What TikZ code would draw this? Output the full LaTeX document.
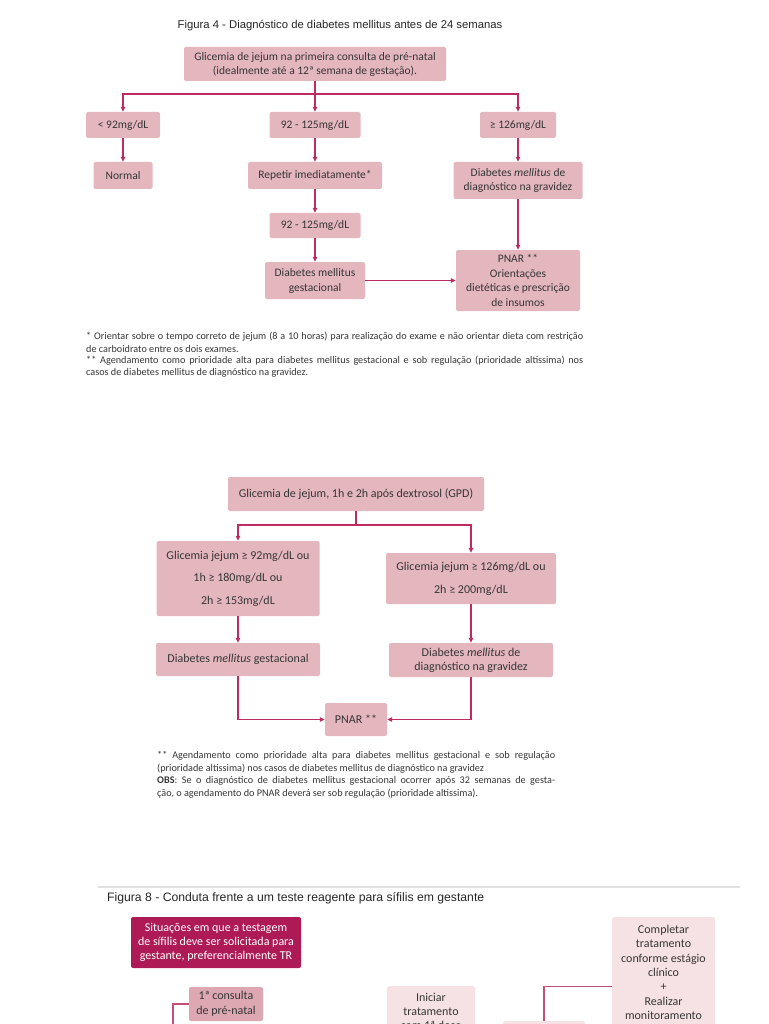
\documentclass[tikz,border=0pt]{standalone}
\usepackage{fontspec}
\setmainfont{Carlito}
\newfontfamily\arialf{Liberation Sans}
\usetikzlibrary{arrows.meta,calc}
\definecolor{pbox}{HTML}{E4B6BE}
\definecolor{crim}{HTML}{BE2A62}
\definecolor{txt}{HTML}{363636}
\definecolor{darkbox}{HTML}{AE1A55}
\definecolor{consbox}{HTML}{DDA8B2}
\definecolor{lightbox}{HTML}{F6E2E4}
\definecolor{ln3c}{HTML}{C45078}
\begin{document}
\begin{tikzpicture}[x=1pt,y=-1pt,
  bx/.style={fill=pbox, rounded corners=2pt, inner sep=0pt, align=center, text=txt},
  fa/.style={font=\fontsize{11.5}{14}\selectfont},
  fb/.style={font=\fontsize{12}{14}\selectfont},
  arr/.style={draw=crim, line width=1.2pt, -{Triangle[length=5pt,width=4.5pt]}},
  ln/.style={draw=crim, line width=1.2pt},
  ln3/.style={draw=ln3c, line width=1.2pt},
  fn/.style={anchor=west, inner sep=0pt, text=txt, font=\fontsize{10.2}{11}\selectfont},
  ttl/.style={inner sep=0pt, text=black!85, font=\arialf\fontsize{11.3}{13}\selectfont}]
\useasboundingbox (0,0) rectangle (768,1024);
\clip (0,0) rectangle (768,1024);

% ---------------- Section 1 ----------------
\node[ttl] (t1) at (340,26) {Figura 4 - Diagnóstico de diabetes mellitus antes de 24 semanas};

\node[bx,fa,minimum width=262pt,minimum height=34pt] (top) at (315,64) {Glicemia de jejum na primeira consulta de pré-natal\\(idealmente até a 12ª semana de gestação).};
\node[bx,fa,minimum width=74pt,minimum height=26pt] (lt) at (123,125) {< 92mg/dL};
\node[bx,fa,minimum width=91pt,minimum height=26pt] (mt) at (315,125) {92 - 125mg/dL};
\node[bx,fa,minimum width=76pt,minimum height=26pt] (rt) at (518,125) {≥ 126mg/dL};
\node[bx,fa,minimum width=59pt,minimum height=27pt] (nor) at (123,175.5) {Normal};
\node[bx,fa,minimum width=134pt,minimum height=27pt] (rep) at (315,175.5) {Repetir imediatamente*};
\node[bx,fa,minimum width=129pt,minimum height=37pt] (dmd) at (518,180.5) {Diabetes \textit{mellitus} de\\diagnóstico na gravidez};
\node[bx,fa,minimum width=91pt,minimum height=25pt] (m2) at (315,225.5) {92 - 125mg/dL};
\node[bx,font=\fontsize{11.5}{15}\selectfont,minimum width=100pt,minimum height=37pt] (dmg) at (315,280.5) {Diabetes mellitus\\gestacional};
\node[bx,font=\fontsize{11.5}{14.5}\selectfont,minimum width=124pt,minimum height=61pt] (pnar) at (518,280.5) {PNAR **\\Orientações\\dietéticas e prescrição\\de insumos};

\coordinate (br1) at (315,94);
\draw[arr] (top.south) -- (mt.north);
\draw[arr] (br1) -| (lt.north);
\draw[arr] (br1) -| (rt.north);
\draw[arr] (lt.south) -- (nor.north);
\draw[arr] (mt.south) -- (rep.north);
\draw[arr] (rt.south) -- (dmd.north);
\draw[arr] (rep.south) -- (m2.north);
\draw[arr] (m2.south) -- (dmg.north);
\draw[arr] (dmd.south) -- (pnar.north);
\draw[arr] (dmg.east) -- (pnar.west);

\node[fn] (f1a) at (86,337) {\makebox[497pt][s]{* Orientar sobre o tempo correto de jejum (8 a 10 horas) para realização do exame e não orientar dieta com restrição}};
\node[fn] (f1b) at (86,348.5) {de carboidrato entre os dois exames.};
\node[fn] (f1c) at (86,361) {\makebox[497pt][s]{** Agendamento como prioridade alta para diabetes mellitus gestacional e sob regulação (prioridade altissima) nos}};
\node[fn] (f1d) at (86,373) {casos de diabetes mellitus de diagnóstico na gravidez.};

% ---------------- Section 2 ----------------
\node[bx,fb,minimum width=256pt,minimum height=34pt] (gpd) at (356,494) {Glicemia de jejum, 1h e 2h após dextrosol (GPD)};
\node[bx,font=\fontsize{12}{22.5}\selectfont,minimum width=163pt,minimum height=75pt] (gl) at (238,578.5) {Glicemia jejum ≥ 92mg/dL ou\\1h ≥ 180mg/dL ou\\2h ≥ 153mg/dL};
\node[bx,font=\fontsize{12}{23}\selectfont,minimum width=170pt,minimum height=51pt] (gr) at (471,578.5) {Glicemia jejum ≥ 126mg/dL ou\\2h ≥ 200mg/dL};
\node[bx,fb,minimum width=164pt,minimum height=33pt] (dl) at (238,659.5) {Diabetes \textit{mellitus} gestacional};
\node[bx,fb,minimum width=164pt,minimum height=34pt] (dr) at (471,660) {Diabetes \textit{mellitus} de\\diagnóstico na gravidez};
\node[bx,fb,minimum width=62pt,minimum height=33pt] (pn) at (356,719.5) {PNAR **};

\coordinate (br2) at (356,525);
\draw[ln] (gpd.south) -- (br2);
\draw[arr] (br2) -| (gl.north);
\draw[arr] (br2) -| (gr.north);
\draw[arr] (gl.south) -- (dl.north);
\draw[arr] (gr.south) -- (dr.north);
\draw[arr] (dl.south) |- (pn.west);
\draw[arr] (dr.south) |- (pn.east);

\node[fn] (f2a) at (157,756) {\makebox[398pt][s]{** Agendamento como prioridade alta para diabetes mellitus gestacional e sob regulação}};
\node[fn] (f2b) at (157,768.5) {(prioridade altissima) nos casos de diabetes mellitus de diagnóstico na gravidez};
\node[fn] (f2c) at (157,781) {\makebox[398pt][s]{\textbf{OBS}: Se o diagnóstico de diabetes mellitus gestacional ocorrer após 32 semanas de gesta-}};
\node[fn] (f2d) at (157,793.5) {ção, o agendamento do PNAR deverá ser sob regulação (prioridade altissima).};

% ---------------- Section 3 ----------------
\draw[black!12, line width=1.5pt] (98,887) -- (740,887);
\node[ttl, anchor=west, font=\arialf\fontsize{12.2}{14}\selectfont] (t3) at (107,898) {Figura 8 - Conduta frente a um teste reagente para sífilis em gestante};

\node[bx, fill=darkbox, text=white, font=\fontsize{12}{13.8}\selectfont, minimum width=170pt, minimum height=51pt] (sit) at (216,942.5) {Situações em que a testagem\\de sífilis deve ser solicitada para\\gestante, preferencialmente TR};
\node[bx, fill=consbox, font=\fontsize{12}{15}\selectfont, minimum width=74pt, minimum height=34pt] (cons) at (226,1004) {1ª consulta\\de pré-natal};
\coordinate (consend) at (173,1030);
\draw[ln3] (cons.west) -| (consend);

\node[bx, fill=lightbox, anchor=north, minimum width=88pt, minimum height=60pt] (ini) at (431,986) {};
\node[inner sep=0pt, anchor=north, align=center, text=txt, font=\fontsize{12}{14}\selectfont] (initxt) at (431,993) {Iniciar\\tratamento\\com 1ª dose};

\node[bx, fill=lightbox, anchor=north, minimum width=82pt, minimum height=40pt] (nxt) at (544,1021) {};
\node[bx, fill=lightbox, anchor=north, minimum width=103pt, minimum height=138pt] (compl) at (663.5,917) {};
\node[inner sep=0pt, anchor=north, align=center, text=txt, font=\fontsize{12}{14.35}\selectfont] (compltxt) at (663.5,925) {Completar\\tratamento\\conforme estágio\\clínico\\+\\Realizar\\monitoramento};
\draw[ln3] (nxt.north) |- (compl.west);
\end{tikzpicture}
\end{document}
